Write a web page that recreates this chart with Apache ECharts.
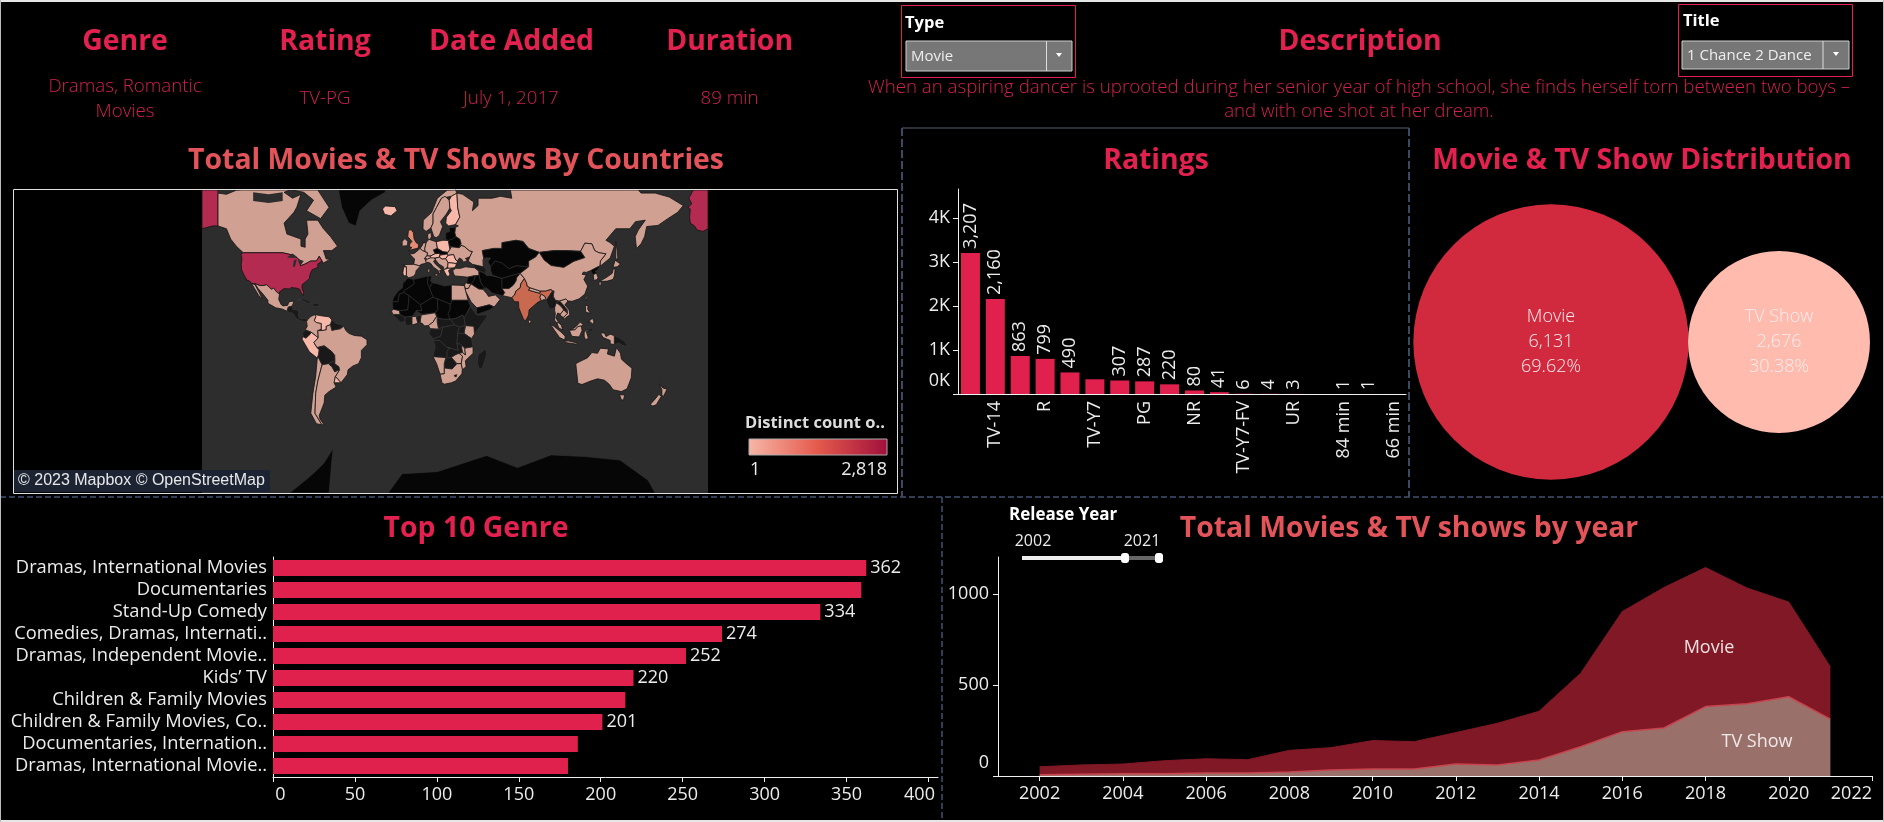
<!DOCTYPE html>
<html><head><meta charset="utf-8">
<style>html,body{margin:0;padding:0;background:#000;overflow:hidden}#c{width:1884px;height:822px}</style>
<script src="https://cdn.jsdelivr.net/npm/echarts@6/dist/echarts.min.js"></script>
</head><body><div id="c"></div>
<script>
// ---------- data ----------
const ratingCategories = ['TV-MA','TV-14','TV-PG','R','PG-13','TV-Y7','TV-Y','PG','TV-G','NR','G','TV-Y7-FV','NC-17','UR','Null','84 min','74 min','66 min'];
const ratingValues = [3207,2160,863,799,490,334,307,287,220,80,41,6,4,3,0,1,1,1];
const ratingUnlabelled = ['TV-Y7','Null','66 min'];
const ratingTicks = [0,1000,2000,3000,4000];

const genreCategories = ['Dramas, International Movies','Documentaries','Stand-Up Comedy','Comedies, Dramas, Internati..','Dramas, Independent Movie..',"Kids’ TV",'Children & Family Movies','Children & Family Movies, Co..','Documentaries, Internation..','Dramas, International Movie..'];
const genreValues = [362,359,334,274,252,220,215,201,186,180];
const genreUnlabelled = ['Documentaries','Children & Family Movies','Documentaries, Internation..','Dramas, International Movie..'];
const genreTicks = [0,50,100,150,200,250,300,350,400];

const yearAxis = ['2001','2002','2003','2004','2005','2006','2007','2008','2009','2010','2011','2012','2013','2014','2015','2016','2017','2018','2019','2020','2021','2022'];
const tvCounts = [null,7,10,13,13,16,16,22,33,39,39,66,61,88,161,244,264,382,397,436,313,null];
const movieCounts = [null,44,51,53,71,79,74,119,123,156,150,173,229,268,404,661,773,765,637,521,287,null];
const yearValueTicks = [0,500,1000];

const typeNames = ['Movie','TV Show'];
const typeCounts = [6131,2676];
const typeShares = ['69.62%','30.38%'];

const countryNames = ['USA','Alaska E','Alaska W','India','UK','Poland','Canada','Mexico','Baja','Colombia','Venezuela','Peru','Brazil','Chile','Argentina','Uruguay','Iceland','Ireland','Norway','Sweden','Finland','Denmark','Germany','Benelux','France','Spain','Portugal','Italy','Sicily','Sardinia','Switzerland','Austria','Hungary','Balkans','Romania','Bulgaria','Greece','Ukraine','Turkey','Russia','Levant','Saudi Arabia','Pakistan','Bangladesh','Nepal','China','South Korea','Honshu','Hokkaido','Kyushu','Taiwan','Thailand','Vietnam','Cambodia','Malaya','Sabah','Kalimantan','Sumatra','Java','Sulawesi','Luzon','Mindanao','Papua','Australia','Tasmania','NZ North','NZ South','Sri Lanka','Sakhalin','Egypt','Nigeria','Senegal','Ghana','Cameroon','Kenya','Namibia','Zimbabwe','Mozambique','Malawi','South Africa','Baffin'];
const countryCounts = [2818,2818,2818,972,419,15,181,110,110,45,5,10,77,22,56,9,9,30,30,30,11,30,150,80,124,145,12,60,60,60,20,10,10,30,12,9,10,25,105,27,30,100,24,30,30,100,199,245,245,245,81,60,30,30,30,30,79,79,79,79,75,75,79,87,87,33,33,30,27,106,95,30,30,30,30,30,30,30,30,60,181];
const blackRegions = ['Greenland','Antarctica','Antarctic Peninsula','Kazakhstan','Central Asia','Mongolia','Iran','Iraq','Syria','Afghanistan','Morocco','Algeria','Tunisia','Libya','Mauritania','Mali','Niger','Chad','Sudan','Baltics','Belarus','Czechia Slovakia','N Korea','Yemen','Lesotho'];
const waterRegions = ['Superior','Michigan','Huron','Caspian','Coronation'];

const shapes = {
 'Antarctica':[[-20,-75],[-10,-70.5],[15,-70],[50,-65.7],[72,-69],[96,-65.5],[120,-66],[145,-67],[165,-72],[170,-75]],
 'Antarctic Peninsula':[[-90,-75],[-75,-71],[-66,-68],[-59,-63.5],[-60,-67],[-62,-75]],
 'Alaska E':[[-153,72],[-141,72],[-141,60],[-145,60],[-153,59]],
 'Alaska W':[[198,72],[208,72],[208,59],[204,58],[200,58.5],[198,60],[195,61],[194.5,63],[195,65.5],[193.5,66],[196,67],[194,68.5],[197,70.5]],
 'Canada':[[-141,69.8],[-135,69.5],[-128,70.5],[-124,72],[-90,72],[-94,70],[-88,68.5],[-82,69.5],[-85,66],[-87,64.5],[-94,61],[-92,57],[-82,55],[-82,52],[-79,51.5],[-79,55],[-77,57],[-78,62],[-70,62],[-66,59],[-61,56],[-56,52],[-60,50],[-66,50],[-65,48],[-64,46],[-61,46],[-66,44],[-67,45],[-69,47.3],[-71,45],[-75,45],[-79,43.5],[-82.5,42.5],[-82.5,45],[-84.5,46.5],[-88.5,48],[-95,49],[-123,49],[-128,52],[-132,55],[-135,59],[-141,60]],
 'Baffin':[[-88,72],[-70,72],[-62,66],[-68,62.5],[-78,65],[-73,68],[-80,70]],
 'USA':[[-124.7,48.4],[-123,49],[-95,49],[-88.5,48],[-84.5,46.5],[-82.5,45],[-82.5,42.5],[-79,43.5],[-75,45],[-71,45],[-69,47.3],[-67,45],[-70,43.5],[-70,41.7],[-74,40.5],[-75.5,38],[-76,35.5],[-78,34],[-81,32],[-81.3,30],[-80,26.8],[-80.5,25.2],[-82,27],[-83,29.2],[-85,29.7],[-89,30.2],[-90,29.2],[-94,29.5],[-97.2,27.5],[-97.3,26],[-99.5,27.5],[-101.5,29.8],[-103,29],[-104.7,30.5],[-106.5,31.8],[-108.2,31.4],[-111,31.3],[-114.8,32.5],[-117.1,32.5],[-118.5,34],[-120.5,34.6],[-122.5,37.5],[-124.2,40.3],[-124.5,43],[-124,46.3]],
 'Mexico':[[-114.8,32.5],[-111,31.3],[-108.2,31.4],[-106.5,31.8],[-104.7,30.5],[-103,29],[-101.5,29.8],[-99.5,27.5],[-97.3,26],[-97.8,22.5],[-96,19],[-94.5,18.2],[-91.5,18.6],[-90.5,21],[-87,21.5],[-88,18.5],[-89,17.9],[-91,17.5],[-92,14.6],[-95,16],[-100,17],[-105.5,20],[-105.5,22],[-109,26],[-112.5,29.5]],
 'Baja':[[-117.1,32.5],[-114.8,32],[-112,27.5],[-109.5,23],[-112,25],[-115,29.5]],
 'Central America':[[-92,14.6],[-91,17.5],[-89,17.9],[-88,18.5],[-88,16],[-83.5,15],[-83.7,11],[-82.5,9.2],[-79.5,9.6],[-77.3,8.6],[-78,7.4],[-80,7.3],[-83,8.3],[-85.7,10],[-87.6,13],[-90,13.8]],
 'Cuba':[[-85,22],[-80,23.2],[-75,20.5],[-74.2,20],[-77.5,19.9],[-78,20.7],[-82,22.5]],
 'Hispaniola':[[-74.4,18.5],[-72.5,20],[-69,19.5],[-68.5,18.5],[-71.5,17.8]],
 'Colombia':[[-77.3,8.6],[-75,11],[-72,12.3],[-71.3,11],[-72.5,8],[-71,6.8],[-67.5,6],[-67.5,2],[-70,1],[-69.7,-4.2],[-72,-2.3],[-75,0],[-79,1.5],[-77.5,4],[-78,7.4]],
 'Venezuela':[[-71.3,11],[-72,12.3],[-68,11.5],[-62,10.7],[-60,8.5],[-61,5.2],[-64,4],[-64,1.5],[-67,1],[-67.5,2],[-67.5,6],[-71,6.8],[-72.5,8]],
 'Guyanas':[[-60,8.5],[-57,6],[-52,4.7],[-51.6,4],[-54,2.2],[-58,1.5],[-60,1],[-61,5.2]],
 'Ecuador':[[-79,1.5],[-75,0],[-75.3,-1.5],[-78.5,-4.5],[-80.3,-3.4],[-81,-1]],
 'Peru':[[-80.3,-3.4],[-78.5,-4.5],[-75.3,-1.5],[-75,0],[-72,-2.3],[-69.7,-4.2],[-72.8,-7.5],[-70.6,-11],[-69,-12.5],[-69.5,-16],[-70.4,-18.3],[-76,-14],[-81.3,-5]],
 'Bolivia':[[-70.6,-11],[-65.5,-9.7],[-60.3,-13.6],[-58,-16.3],[-57.8,-20],[-62.5,-22],[-67,-22.8],[-69.5,-18],[-70.4,-18.3],[-69.5,-16],[-69,-12.5]],
 'Paraguay':[[-62.5,-22],[-57.8,-20],[-58,-22],[-55,-24],[-54.6,-26],[-58,-27.3],[-60,-24]],
 'Brazil':[[-51.6,4],[-50,1],[-48,-1],[-44,-2.5],[-39,-3],[-35,-5.5],[-35,-9],[-39,-13],[-39,-18],[-41,-22],[-45,-23.5],[-48.5,-26],[-49,-29],[-53.5,-34],[-57.5,-30.2],[-54.6,-26],[-55,-24],[-58,-22],[-57.8,-20],[-58,-16.3],[-60.3,-13.6],[-65.5,-9.7],[-70.6,-11],[-72.8,-7.5],[-69.7,-4.2],[-70,1],[-67,1],[-64,1.5],[-64,4],[-61,5.2],[-60,1],[-58,1.5],[-54,2.2]],
 'Chile':[[-70.4,-18.3],[-69.5,-18],[-67,-22.8],[-70,-33],[-71.5,-40],[-72,-50],[-67,-55],[-71,-54.5],[-75,-50],[-73.5,-40],[-71.5,-30]],
 'Argentina':[[-67,-22.8],[-62.5,-22],[-60,-24],[-58,-27.3],[-54.6,-26],[-57.5,-30.2],[-58.4,-34],[-57,-36.5],[-62,-39],[-65,-41],[-65.5,-45],[-69,-51],[-68.5,-52.5],[-65.5,-55],[-67,-55],[-72,-50],[-71.5,-40],[-70,-33]],
 'Uruguay':[[-57.5,-30.2],[-53.5,-34],[-58.4,-34]],
 'Greenland':[[-55,72],[-22,72],[-22,70],[-32,68],[-40,65],[-43,60],[-48,61],[-53,66],[-55,70]],
 'Iceland':[[-24,65.5],[-22,66.4],[-15,66.2],[-13.6,65],[-18,63.4],[-22.5,63.9]],
 'UK':[[-5.5,50],[1.5,51.2],[1.7,52.7],[0,53.5],[-1.5,55],[-2,57.5],[-3.5,58.6],[-5.5,58.5],[-6,56],[-3,54],[-4.5,53],[-5,51.8],[-3,51.4]],
 'Ireland':[[-10,52],[-6.2,52.2],[-6,54],[-8,55.2],[-10,54]],
 'Norway':[[4.8,59],[7,58],[10.5,59.3],[12,61],[12,64],[14.5,66],[18,68.5],[25,69],[29,69.8],[28,72],[22,70.5],[15,68.5],[11,64.5],[5,62]],
 'Sweden':[[10.5,59.3],[12.5,56],[14.3,55.5],[16.5,56.5],[18.8,59.8],[17.2,61.5],[21.5,64],[24,65.8],[23.5,68],[20.5,69],[18,68.5],[14.5,66],[12,64],[12,61]],
 'Finland':[[21,61],[23,60],[28,60.5],[31,63],[29.5,66],[29,69.8],[25,69],[23.5,68],[24,65.8],[25,65],[21.5,63]],
 'Denmark':[[8.2,55],[8.2,57],[10.5,57.6],[10.8,56],[10,54.9]],
 'Baltics':[[21,55],[21,57.5],[24,58],[23.5,59.4],[28,59.5],[27.5,57.5],[28.2,56],[26,55],[22.8,54.4]],
 'Belarus':[[23.5,52],[22.8,54.4],[26,55],[28.2,56],[31,55],[32,53],[30.5,51.3],[25,51.7]],
 'Poland':[[14.2,53.9],[19,54.5],[22.8,54.4],[23.5,52],[24,50.5],[22.5,49.2],[19,49.5],[15,51]],
 'Germany':[[6,51],[7,53.5],[9,54.9],[14.2,53.9],[15,51],[12.2,50.3],[13.6,48.6],[10,47.4],[7.6,47.6],[8,49],[6.2,49.5]],
 'Benelux':[[2.6,51],[4,52],[5,53.4],[7,53.5],[6,51],[6.2,49.5],[4.5,50]],
 'France':[[-4.7,48.4],[-1.5,48.7],[1.5,50.2],[2.6,51],[4.5,50],[6.2,49.5],[8,49],[7.6,47.6],[6,46.3],[7.5,44],[3.2,43.2],[3,42.4],[-1.7,43.3],[-1.2,46]],
 'Spain':[[-9.2,43.2],[-1.7,43.3],[3,42.4],[0,40],[-0.5,38.3],[-2,36.7],[-5.5,36],[-7,37.2],[-7,42]],
 'Portugal':[[-8.9,41.9],[-7,42],[-7,37.2],[-8.9,37],[-9.5,38.7]],
 'Italy':[[7,44],[6.9,45.8],[10,46.8],[12.3,47],[13.7,45.6],[12.3,44.9],[13.6,43.5],[16,41.9],[18.5,40.2],[16.7,40],[17,39],[16,38],[15.7,40],[12.3,41.8],[10.3,43.8],[8.5,44.4]],
 'Sicily':[[12.5,38],[15.5,38.2],[15,36.7]],
 'Sardinia':[[8.2,39],[8.4,41],[9.7,41],[9.6,39]],
 'Switzerland':[[6,46.3],[7.6,47.6],[10,47.4],[10.4,46.6],[8,46]],
 'Austria':[[10,47.4],[13.6,48.6],[17,48.7],[16.5,46.9],[13.7,46.5],[10.4,46.6]],
 'Czechia Slovakia':[[12.2,50.3],[15,51],[19,49.5],[22.5,49.2],[22,48.4],[17,47.9],[17,48.7],[13.6,48.6]],
 'Hungary':[[16.5,46.9],[17,47.9],[22,48.4],[22.8,47.9],[21,46.2],[18.5,45.9]],
 'Balkans':[[13.7,45.6],[13.7,46.5],[16.5,46.9],[18.5,45.9],[21,46.2],[22.7,44.2],[22.5,42.3],[21,40.9],[19.4,40.4],[19.3,42],[16,43.5]],
 'Romania':[[21,46.2],[22.8,47.9],[26.6,48.2],[28.2,45.5],[29.6,45],[28.6,43.7],[22.7,44.2]],
 'Bulgaria':[[22.7,44.2],[28.6,43.7],[28,42],[26,41.3],[22.5,41.2],[22.5,42.3]],
 'Greece':[[19.4,40.4],[21,40.9],[22.5,41.2],[26,41.3],[24,40.6],[23,40],[24,38],[22.8,36.5],[21.3,37.5]],
 'Ukraine':[[22.5,49.2],[24,50.5],[25,51.7],[30.5,51.3],[32,52.3],[34,52],[38,49.9],[40,49.6],[38.2,47.1],[35,46.2],[36.5,45.3],[33.6,44.4],[32.5,45.8],[30.7,46.5],[29.6,45],[28.2,45.5],[26.6,48.2],[22.8,47.9],[22,48.4]],
 'Turkey':[[26,40],[28,41.2],[31.5,41.2],[35,42],[41.5,41.5],[44.6,39.7],[44.7,37.2],[42,37.2],[36.6,36.3],[36,36.8],[30.6,36.8],[27.4,37],[26.5,38.5]],
 'Caucasus':[[41.5,41.5],[40,43.3],[48,42],[50,40.3],[48.8,38.4],[44.6,39.7]],
 'Russia':[[28,59.5],[30,60],[28,60.5],[31,63],[29.5,66],[29,69.8],[33,69.5],[41,67.5],[40,65],[44,66.5],[44,68.5],[54,68.5],[60,69],[68,68.5],[67,72],[158,72],[160,69.8],[170,69.8],[180,68.8],[190,66.5],[186,64.5],[179,62.5],[172,60.2],[164,59.8],[162.5,56],[160,53],[156.7,51],[155.8,56],[158,58.5],[163,62],[156,61.5],[152,59],[142,59],[135,54.5],[138,53.5],[141,52],[138,46.5],[132,43],[130.7,42.5],[131,45],[135,48.5],[130,49],[127,50],[125,53],[120,53.3],[117,49.7],[107,50],[98,50],[87.5,49.2],[80,51],[76,54],[71,54.5],[61,53.5],[61,51],[55,51],[47,50],[48,46.5],[47.5,45.5],[47.6,43],[48,42],[40,43.3],[37,45],[38.2,47.1],[40,49.6],[38,49.9],[34,52],[32,52.3],[30.5,51.3],[32,53],[31,55],[28.2,56],[27.5,57.5]],
 'Sakhalin':[[142,54],[143,50],[143.5,46],[142,46],[142,50]],
 'Kazakhstan':[[47,50],[55,51],[61,51],[61,53.5],[71,54.5],[76,54],[80,51],[87.5,49.2],[85,47],[80,45],[80,42],[71,42.5],[66,41],[61,44],[56,45],[53,42],[51,44.5],[53,46.5],[48,46.5]],
 'Central Asia':[[53,42],[56,45],[61,44],[66,41],[71,42.5],[80,42],[74,38.5],[68,37.2],[61,35.6],[54,37.5],[53,40]],
 'Mongolia':[[87.5,49.2],[98,50],[107,50],[117,49.7],[120,46.7],[112,44.8],[105,41.7],[96,42.7],[91,45.5]],
 'Iran':[[44.6,39.7],[48.8,38.4],[50,37.3],[54,37],[54,37.5],[61,35.6],[61,31],[63,27],[61.5,25],[57,26],[54,26.7],[50.5,29.8],[48.5,30],[46,33],[44.7,37.2]],
 'Iraq':[[42,37.2],[44.7,37.2],[46,33],[48.5,30],[47.5,29],[44.5,29.2],[39,32.3],[41,34.5]],
 'Syria':[[36.6,36.3],[42,37.2],[41,34.5],[39,32.3],[36,32.7]],
 'Levant':[[36,32.7],[39,32.3],[37,29.5],[35,29.5],[34.3,31.3],[35.3,33.5]],
 'Saudi Arabia':[[35,29.5],[37,29.5],[39,32.3],[44.5,29.2],[47.5,29],[48.5,28],[50,26.5],[51.5,24.5],[56.3,25.5],[59.7,22.5],[55.5,17.5],[52,19],[45,17.3],[43,17],[39,21],[35,28]],
 'Yemen':[[43,13],[44,12.7],[52,15.5],[55.5,17.5],[52,19],[45,17.3],[43,17]],
 'Afghanistan':[[61,35.6],[68,37.2],[74,38.5],[71.5,36],[71,34],[69,31.5],[66,29.5],[61,29.5],[61,31]],
 'Pakistan':[[61,29.5],[66,29.5],[69,31.5],[71,34],[71.5,36],[74,38.5],[77,35.5],[74.5,32.5],[74,30],[71,28],[70,25.5],[68,23.7],[61.5,25],[63,27]],
 'India':[[68,23.7],[70,25.5],[71,28],[74,30],[74.5,32.5],[77,35.5],[78.5,33],[79,31],[81,30],[80,28.5],[88,26.5],[88,28],[92,28],[96,29],[97,28],[94,24],[92.5,22],[91.5,24.5],[89,26],[88,24],[89,21.7],[87,21],[85,19.5],[80.3,15.5],[80,12],[78,8.2],[76.5,8.5],[73,17],[72.8,21],[70,21]],
 'Bangladesh':[[88,24],[89,26],[91.5,24.5],[92.5,22],[91,22.5],[89,21.7]],
 'Nepal':[[80,28.5],[81,30],[88,28],[88,26.5]],
 'Sri Lanka':[[79.8,9],[81.8,7.5],[81,6.1],[80,6.2]],
 'China':[[74,38.5],[80,42],[80,45],[85,47],[87.5,49.2],[91,45.5],[96,42.7],[105,41.7],[112,44.8],[120,46.7],[117,49.7],[120,53.3],[125,53],[127,50],[130,49],[135,48.5],[131,45],[130.7,42.5],[128,41.5],[124.3,40],[121,39],[119,39.2],[118,38],[121,37.5],[119.3,35],[122,31],[120,26],[116,23],[111,21.3],[108,21.5],[106.5,22.8],[102,21.5],[99,22],[97.5,24.5],[98,28],[97,28],[96,29],[92,28],[88,28],[81,30],[79,31],[78.5,33],[77,35.5]],
 'N Korea':[[124.3,40],[128,41.5],[130.7,42.5],[129.5,40.8],[127.5,39.7],[128.3,38.5],[126,37.8],[125,38.5]],
 'South Korea':[[126,37.8],[128.3,38.5],[129.4,36],[128.5,34.8],[126.3,34.5]],
 'Honshu':[[130.9,34],[136,36.5],[139.5,38.5],[140.3,41.3],[141.5,40.5],[141,37],[140,35],[136,34],[132,33.8]],
 'Hokkaido':[[140,41.8],[141.5,45.4],[145.3,43.5],[143,42]],
 'Kyushu':[[130,33.5],[131.8,33.5],[131.3,31.3],[130.2,31.3]],
 'Taiwan':[[120.2,23],[121.5,25.2],[121.8,24.5],[120.8,22]],
 'Myanmar':[[92.5,22],[94,24],[97,28],[98,28],[97.5,24.5],[99,22],[101,21.2],[98.5,17],[98.5,13],[97.7,16.5],[95.5,16],[94,18],[93,20.5]],
 'Laos':[[101,21.2],[102,21.5],[104.5,19],[107.5,15.5],[106,14.5],[105,15.5],[103,18],[101,19.5],[99.5,20.2]],
 'Thailand':[[98.5,17],[99.5,20.2],[101,19.5],[103,18],[105,15.5],[102.5,12.5],[100.7,13.4],[99.3,10],[101.5,6.5],[100,6.5],[98.3,8.5],[99,13],[98.5,15]],
 'Vietnam':[[102,21.5],[106.5,22.8],[108,21.5],[105.8,19],[108.8,15.5],[109.3,12],[106.7,10.4],[105,8.7],[105,10.4],[107.5,13],[107.5,15.5],[104.5,19]],
 'Cambodia':[[102.5,12.5],[105,15.5],[106,14.5],[107.5,13],[105,10.4],[103,11]],
 'Malaya':[[100,6.5],[101.5,6.5],[103.4,4.5],[104.2,1.4],[101.5,2.8]],
 'Sabah':[[109.6,1.5],[113,3.2],[116.7,7],[119,5],[117.5,4.2],[115,3.8],[113,1.5]],
 'Kalimantan':[[109,1.2],[109.6,1.5],[113,1.5],[115,3.8],[117.5,4.2],[118,1],[116,-3.5],[111,-3.2],[110,-1.5]],
 'Sumatra':[[95.3,5.6],[98,4],[103,0],[106,-3],[105.7,-5.8],[102,-4],[98.5,1]],
 'Java':[[105.3,-6.8],[108,-6.3],[114.5,-7.8],[114.4,-8.7],[106,-7.5]],
 'Sulawesi':[[119.5,0],[121,1.2],[125,1.5],[121,0.3],[122.5,-4.5],[120.4,-5.5],[119.5,-3]],
 'Luzon':[[120.3,18.5],[122.3,18.4],[122,16],[124,13],[120.6,14]],
 'Mindanao':[[122,7],[125.5,9.7],[126.5,7],[125.5,5.7],[123.5,7.5]],
 'Papua':[[131,-0.8],[134,-0.8],[135,-3.3],[138,-1.6],[141,-2.6],[141,-9.1],[138,-8.3],[138,-6],[133,-4]],
 'PNG':[[141,-2.6],[145,-4.5],[148,-6.5],[150.8,-10.5],[147,-9.5],[144,-7.7],[141,-9.1]],
 'Australia':[[113.5,-22],[114,-26],[115,-34.3],[118,-35],[124,-33],[129,-31.6],[134,-32.5],[137.5,-35],[140,-38],[146,-39],[150,-37.5],[153,-31],[153.5,-25],[149.5,-22],[146,-19],[145.3,-15],[142.5,-11],[141,-17],[136,-15.5],[136.8,-12],[131,-11.5],[129,-15],[125,-14.5],[122,-18],[116,-20.8]],
 'Tasmania':[[144.7,-40.7],[148.3,-40.9],[147.5,-43.5],[146,-43.5]],
 'NZ North':[[172.8,-34.5],[175.5,-37],[178.4,-37.7],[176,-41.5],[174.8,-41.3],[174.8,-38]],
 'NZ South':[[172.7,-40.5],[174.3,-41.7],[170.8,-45.9],[168.4,-46.6],[166.5,-45.8],[170,-43]],
 'Morocco':[[-6,35.8],[-2,35],[-1.2,32.5],[-8.7,28],[-8.7,27],[-12,26],[-13,21],[-17,21],[-16,24],[-13,27.7],[-9.8,30],[-9.5,32.5]],
 'Algeria':[[-2,35],[8.6,37],[8,33],[9.5,30],[12,24],[3,19],[-5,25],[-8.7,27],[-8.7,28],[-1.2,32.5]],
 'Tunisia':[[8.6,37],[11,37],[10.2,34],[11.5,33],[9.5,30],[8,33]],
 'Libya':[[11.5,33],[15,32.4],[20,31],[25,31.7],[25,20],[24,19.5],[15,23],[12,24],[9.5,30]],
 'Egypt':[[25,31.7],[31,31.5],[34.3,31.3],[35,28.5],[37,22],[25,22]],
 'Sudan':[[24,19.5],[25,20],[25,22],[37,22],[38.5,18],[36.5,14],[34,10],[33,12],[28,9.5],[24,9],[22.5,13],[24,15.5]],
 'South Sudan':[[24,9],[28,9.5],[33,12],[34,10],[35,4.5],[30.8,3.5],[27.5,5]],
 'Mauritania':[[-17,21],[-13,21],[-12,26],[-8.7,27],[-5,25],[-6,15.5],[-12,15],[-16.5,16]],
 'Mali':[[-5,25],[3,19],[4,15],[0,15],[-3,11],[-8,10.5],[-11.5,12.3],[-12,15],[-6,15.5]],
 'Niger':[[3,19],[12,24],[15,23],[15.5,16],[13.5,13.5],[4,12.5],[3.5,12],[0,15],[4,15]],
 'Chad':[[15,23],[24,19.5],[24,15.5],[22.5,13],[24,9],[19,9],[15,10],[13.5,13.5],[15.5,16]],
 'Nigeria':[[2.7,6.3],[3.5,12],[4,12.5],[13.5,13.5],[14.5,11],[12,7],[8.7,4.6],[6,4.3],[4,6.3]],
 'Senegal':[[-17.5,14.7],[-16.5,16],[-12,15],[-11.5,12.3],[-16.7,12.4]],
 'Guinea':[[-16.7,12.4],[-11.5,12.3],[-8,10.5],[-8,7.5],[-11,6.8],[-15,10.5]],
 'Ivory Coast':[[-8,10.5],[-3,11],[-3,5.2],[-7.5,4.4],[-8,7.5]],
 'Ghana':[[-3,11],[0,11],[1.2,6.1],[-3,5]],
 'Benin':[[0,11],[3.5,12],[2.7,6.3],[1.2,6.1]],
 'Cameroon':[[8.7,4.6],[12,7],[14.5,11],[15,10],[15,7],[16,2],[10,2.3]],
 'CAR':[[15,7],[15,10],[19,9],[24,9],[27.5,5],[19,3.5],[16,2]],
 'Gabon':[[10,2.3],[16,2],[19,3.5],[17.5,-3],[12,-5],[9,-1]],
 'DRC':[[19,3.5],[27.5,5],[30.8,3.5],[29.5,-1],[29,-8],[30,-13],[22,-11],[16.5,-6],[12,-6],[12,-5],[17.5,-3]],
 'Ethiopia':[[36.5,14],[38.5,18],[43,12],[51,12],[47,6],[41.5,-1.5],[41,4],[35,4.5],[34,10]],
 'Kenya':[[35,4.5],[41,4],[41.5,-1.5],[39.3,-4.7],[34,-1]],
 'Uganda':[[30.8,3.5],[35,4.5],[34,-1],[29.5,-1]],
 'Tanzania':[[29.5,-1],[34,-1],[39.3,-4.7],[40.4,-10.5],[34.5,-11.5],[32,-9],[29,-8]],
 'Angola':[[12,-6],[16.5,-6],[22,-11],[24,-11],[22,-13.5],[22,-18],[12,-17.3],[13.5,-10]],
 'Zambia':[[22,-11],[30,-13],[29,-8],[32,-9],[33,-14.5],[30.5,-15],[28,-16],[25,-17.8],[22,-18],[22,-13.5],[24,-11]],
 'Namibia':[[12,-17.3],[22,-18],[25,-17.8],[21,-18.3],[20,-22],[20,-28.5],[17,-28.8],[14.5,-22]],
 'Botswana':[[21,-18.3],[25,-17.8],[29,-22],[25.5,-25.5],[20,-24.8],[20,-22]],
 'Zimbabwe':[[25,-17.8],[28,-16],[30.5,-15],[33,-17],[32,-22],[29,-22]],
 'Mozambique':[[34.5,-11.5],[40.4,-10.5],[40.5,-15],[35,-20],[35.5,-24],[32.8,-26],[32,-22],[33,-17],[30.5,-15],[33,-14.5],[35,-16],[34.5,-13]],
 'Malawi':[[32,-9],[34.5,-11.5],[34.5,-13],[35,-16],[33,-14.5]],
 'South Africa':[[17,-28.8],[20,-28.5],[20,-24.8],[25.5,-25.5],[29,-22],[32,-22],[32.8,-26],[32.5,-28.5],[28,-33],[25,-34],[20,-34.8],[18.3,-34]],
 'Lesotho':[[27,-29.5],[29,-29],[28.5,-30.5],[27.5,-30.3]],
 'Madagascar':[[44,-16],[49.3,-12],[50.3,-15.5],[47,-25],[45,-25.5],[43.5,-22]],
 'Superior':[[-92,46.8],[-88,48.7],[-84.7,47],[-87,46.5]],
 'Michigan':[[-87.8,42],[-87,45.5],[-85,45.8],[-86.3,42]],
 'Huron':[[-84,46],[-80,45],[-81.7,43.2],[-83.5,43.7]],
 'Caspian':[[47.6,43],[47.5,45.5],[50,46.8],[53,46.5],[51,44.5],[53,42],[53,40],[54,37],[50,37.3],[48.8,38.4],[50,40.3],[48,42]],
 'Coronation':[[-116,70],[-105,69.5],[-95,70],[-95,67.8],[-105,67.2],[-116,67.8]]
};

// ---------- map set-up ----------
const LON_L=-152.4, LON_R=207.6, LAT_T=70.55, LAT_B=-74.6;
const clampLL=p=>[Math.min(LON_R,Math.max(LON_L,p[0])),Math.min(LAT_T,Math.max(LAT_B,p[1]))];
echarts.registerMap('netflixWorld',{type:'FeatureCollection',features:Object.keys(shapes).map(n=>{
  const ring=shapes[n].map(clampLL); ring.push(ring[0]);
  return {type:'Feature',properties:{name:n},geometry:{type:'Polygon',coordinates:[ring]}};
})});
const rad=Math.PI/180;
const mercator={
  project:p=>[p[0]*rad,-Math.log(Math.tan(Math.PI/4+p[1]*rad/2))],
  unproject:p=>[p[0]/rad,(2*Math.atan(Math.exp(-p[1]))-Math.PI/2)/rad]
};
const FONT='"Open Sans"';
const RED='#E3214F', CORAL='#E25459', VALUE='#D2204E', LIGHT='#ECECEC', AXIS='#F0F0F0', BAR='#E0214E';

const mapData=[
  ...countryNames.map((n,i)=>({name:n,value:countryCounts[i],itemStyle:{borderColor:'#141414',borderWidth:.8}})),
  ...blackRegions.map(n=>({name:n,value:-1,itemStyle:{borderColor:'#333',borderWidth:.6}})),
  ...waterRegions.map(n=>({name:n,value:-2,itemStyle:{borderColor:'#2d2d2d',borderWidth:0}}))
];

// ---------- helpers ----------
const head=(text,cx,cy,color,size,weight)=>({text,left:cx,top:cy-23,textAlign:'center',padding:0,
  textStyle:{color,fontFamily:FONT,fontSize:size,fontWeight:weight,lineHeight:48}});
const val=(text,cx,cy)=>head(text,cx,cy,VALUE,18.7,300);
const txt=(text,x,y,fill,font,align,z)=>({type:'text',z:z||20,silent:true,style:{text,x,y,fill,font,textAlign:align||'left',textVerticalAlign:'middle'}});
const rect=(x,y,w,h,fill,stroke,lw,z,extra)=>({type:'rect',z:z||5,silent:true,shape:Object.assign({x,y,width:w,height:h},extra||{}),style:{fill:fill||'transparent',stroke:stroke||null,lineWidth:lw||1}});
const line=(x1,y1,x2,y2,stroke,lw,dash)=>({type:'line',z:5,silent:true,shape:{x1,y1,x2,y2},style:{stroke,lineWidth:lw,lineDash:dash||null}});
const tri=(cx,cy)=>({type:'polygon',z:20,silent:true,shape:{points:[[cx-3,cy-2],[cx+3,cy-2],[cx,cy+2]]},style:{fill:'#fff'}});
const axisText=(extra)=>Object.assign({color:LIGHT,fontFamily:FONT,fontSize:18},extra||{});
const T=28.4;

const graphics=[
  rect(0,0,1884,2,'#E6E6E6',null,0,30), rect(0,820,1884,2,'#E6E6E6',null,0,30), rect(0,0,1,822,'#BBB',null,0,30), rect(1883,0,1,822,'#BBB',null,0,30),
  rect(901.5,5.5,174,72,null,RED,1), txt('Type',905,23,'#FFF','bold 16.5px '+FONT),
  rect(906,41,166,30,'#777','#CFCFCF',1), line(1046.5,41,1046.5,71,'#DDD',1), txt('Movie',911,57,'#EEE','15px '+FONT), tri(1059,55),
  rect(1678.5,4.5,174,72,null,RED,1), txt('Title',1683,21,'#FFF','bold 16.5px '+FONT),
  rect(1682,41,167,28,'#777','#CFCFCF',1), line(1823,41,1823,69,'#DDD',1), txt('1 Chance 2 Dance',1687,56,'#EEE','15px '+FONT), tri(1836,54),
  line(0,497,1884,497,'#2F3E55',2,[6,3]), line(942,497,942,820,'#2F3E55',2,[6,3]),
  line(902,128,1409,128,'#2C3037',2), line(902,128,902,497,'#3A4A60',2,[8,3]), line(1409,128,1409,497,'#3A4A60',2,[8,3]),
  rect(13.5,189.5,884,304,null,'#E0E0E0',1,6), rect(202,190,506,303,'#2D2D2D',null,0,-1),
  rect(14,470,256,22,'#1C2332',null,0,18), txt('© 2023 Mapbox © OpenStreetMap',18,481,'#E8E8E8','16px "Liberation Sans"'),
  txt('Distinct count o..',745,423,'#DDD','bold 16.5px '+FONT),
  {type:'rect',z:20,silent:true,shape:{x:749,y:439,width:138,height:16},style:{stroke:'#AAA',lineWidth:1,fill:new echarts.graphic.LinearGradient(0,0,1,0,[{offset:0,color:'#F6B7A8'},{offset:.5,color:'#E4594C'},{offset:1,color:'#A1103C'}])}},
  txt('1',750,470,LIGHT,'18px '+FONT), txt('2,818',887,470,LIGHT,'18px '+FONT,'right'),
  txt('Release Year',1009,515,'#FFF','bold 17px '+FONT),
  txt('2002',1033,541,LIGHT,'16px '+FONT,'center'), txt('2021',1142,541,LIGHT,'16px '+FONT,'center'),
  rect(1022,556,103,4,'#EEE',null,0,20), rect(1125,556,35,4,'#666',null,0,20),
  rect(1121,553,8,10,'#FFF',null,0,21,{r:3}), rect(1155,553,8,10,'#FFF',null,0,21,{r:3}),
  txt('Movie',1709,648,'#F0E0E0','18px '+FONT,'center'), txt('TV Show',1757,742,'#F0E8E8','18px '+FONT,'center')
];

const evenYear=i=>i%2===1;
const option={
  backgroundColor:'#000',
  animation:false,
  title:[
    head('Genre',125,41,RED,T,'bold'), head('Rating',325,41,RED,T,'bold'), head('Date Added',511.5,41,RED,T,'bold'),
    head('Duration',729.6,41,RED,T,'bold'), head('Description',1360,41,RED,T,'bold'),
    val('Dramas, Romantic',125,86), val('Movies',125,111), val('TV-PG',325,98), val('July 1, 2017',511,98), val('89 min',729.6,98),
    val('When an aspiring dancer is uprooted during her senior year of high school, she finds herself torn between two boys –',1359,87),
    val('and with one shot at her dream.',1359,111),
    head('Total Movies & TV Shows By Countries',456,160,CORAL,T,'bold'), head('Ratings',1156,160,RED,T,'bold'),
    head('Movie & TV Show Distribution',1642,160,RED,T,'bold'), head('Top 10 Genre',476,528,RED,T,'bold'),
    head('Total Movies & TV shows by year',1409,528,CORAL,T,'bold')
  ],
  graphic:graphics,
  grid:[
    {left:958,top:189,width:448,height:205,outerBoundsMode:'none'},
    {left:273,top:557,width:665,height:220,outerBoundsMode:'none'},
    {left:998,top:557,width:874,height:219,outerBoundsMode:'none'},
    {left:1437,top:200,width:456,height:284,outerBoundsMode:'none'}
  ],
  xAxis:[
    {gridIndex:0,type:'category',data:ratingCategories,
      axisLine:{lineStyle:{color:AXIS}},axisTick:{length:4,lineStyle:{color:AXIS}},
      axisLabel:axisText({rotate:90,margin:7,interval:i=>i%2===1})},
    {gridIndex:1,type:'value',min:0,max:405.8,splitLine:{show:false},
      axisLine:{show:true,lineStyle:{color:AXIS}},axisTick:{show:true,length:5,lineStyle:{color:AXIS},customValues:genreTicks},
      axisLabel:axisText({customValues:genreTicks,margin:9,
        formatter:v=>v===0?'{s|0}':v===400?'{e|400}':String(v),
        rich:{s:axisText({padding:[0,0,0,15]}),e:axisText({padding:[0,18,0,0]})}})},
    {gridIndex:2,type:'category',data:yearAxis,boundaryGap:false,
      axisLine:{show:true,lineStyle:{color:AXIS}},axisTick:{show:true,length:5,alignWithLabel:true,interval:evenYear,lineStyle:{color:AXIS}},
      axisLabel:axisText({interval:evenYear,margin:9,alignMaxLabel:'right'})},
    {gridIndex:3,type:'category',data:typeNames,show:false}
  ],
  yAxis:[
    {gridIndex:0,type:'value',min:0,max:4659,splitLine:{show:false},
      axisLine:{show:true,lineStyle:{color:AXIS}},axisTick:{show:true,length:5,lineStyle:{color:AXIS},customValues:ratingTicks},
      axisLabel:axisText({customValues:ratingTicks,margin:8,verticalAlignMinLabel:'bottom',
        formatter:v=>v===0?'{b|0K}':(v/1000)+'K',rich:{b:axisText({padding:[0,0,4,0]})}})},
    {gridIndex:1,type:'category',inverse:true,data:genreCategories,
      axisLine:{show:true,lineStyle:{color:AXIS}},axisTick:{show:false},
      axisLabel:axisText({margin:6,interval:0,fontSize:18.3})},
    {gridIndex:2,type:'value',min:0,max:1205,splitLine:{show:false},
      axisLine:{show:true,lineStyle:{color:AXIS}},axisTick:{show:true,length:5,lineStyle:{color:AXIS},customValues:yearValueTicks},
      axisLabel:axisText({customValues:yearValueTicks,margin:9,verticalAlignMinLabel:'bottom',
        formatter:v=>v===0?'{b|0}':String(v),rich:{b:axisText({padding:[0,0,4,0]})}})},
    {gridIndex:3,type:'value',min:-1,max:1,show:false}
  ],
  visualMap:{type:'piecewise',show:false,seriesIndex:0,dimension:0,pieces:[
    {max:-1.5,color:'#2D2D2D'},
    {min:-1.5,max:0,color:'#060606'},
    {min:0,max:16,color:'#F7B8A9'},
    {min:16,max:300,color:'#D0A093'},
    {min:300,max:600,color:'#E58C74'},
    {min:600,max:1500,color:'#C96A50'},
    {min:1500,color:'#B32B50'}
  ]},
  series:[
    {type:'map',map:'netflixWorld',silent:true,projection:mercator,
      boundingCoords:[[LON_L,LAT_T],[LON_R,LAT_B]],left:202,top:190,width:506,height:303,
      itemStyle:{areaColor:'#191919',borderColor:'#3A3A3A',borderWidth:.6},
      label:{show:false},emphasis:{disabled:true},select:{disabled:true},data:mapData},
    {type:'bar',xAxisIndex:0,yAxisIndex:0,barWidth:19,itemStyle:{color:BAR},
      data:ratingValues.map((v,i)=>({value:v,label:{show:!ratingUnlabelled.includes(ratingCategories[i])}})),
      label:{show:true,position:'top',rotate:90,align:'left',verticalAlign:'middle',distance:4,color:LIGHT,fontFamily:FONT,fontSize:18,
        formatter:p=>p.value.toLocaleString('en-US')}},
    {type:'bar',xAxisIndex:1,yAxisIndex:1,barWidth:16,itemStyle:{color:BAR},
      data:genreValues.map((v,i)=>({value:v,label:{show:!genreUnlabelled.includes(genreCategories[i])}})),
      label:{show:true,position:'right',distance:4,color:LIGHT,fontFamily:FONT,fontSize:18}},
    {type:'line',name:'TV Show',xAxisIndex:2,yAxisIndex:2,stack:'total',symbol:'none',z:3,
      lineStyle:{color:'#C8454F',width:1.5},areaStyle:{color:'#9A706A',opacity:1},itemStyle:{color:'#C8454F'},
      data:tvCounts},
    {type:'line',name:'Movie',xAxisIndex:2,yAxisIndex:2,stack:'total',symbol:'none',z:2,
      lineStyle:{width:1,color:'#801826'},areaStyle:{color:'#801826',opacity:1},itemStyle:{color:'#801826'},
      data:movieCounts},
    {type:'scatter',xAxisIndex:3,yAxisIndex:3,clip:false,
      symbolSize:d=>3.517*Math.sqrt(d[2]),
      data:typeNames.map((n,i)=>({value:[n,0,typeCounts[i]],itemStyle:{color:i===0?'#D12A3E':'#FFBBAE',opacity:1}})),
      label:{show:true,position:'inside',color:'#F7ECEF',fontFamily:FONT,fontSize:18,fontWeight:300,lineHeight:25,
        formatter:p=>p.value[0]+'\n'+p.value[2].toLocaleString('en-US')+'\n'+typeShares[p.dataIndex]}}
  ]
};
echarts.init(document.getElementById('c'),null,{renderer:'canvas',width:1884,height:822}).setOption(option);
</script></body></html>
